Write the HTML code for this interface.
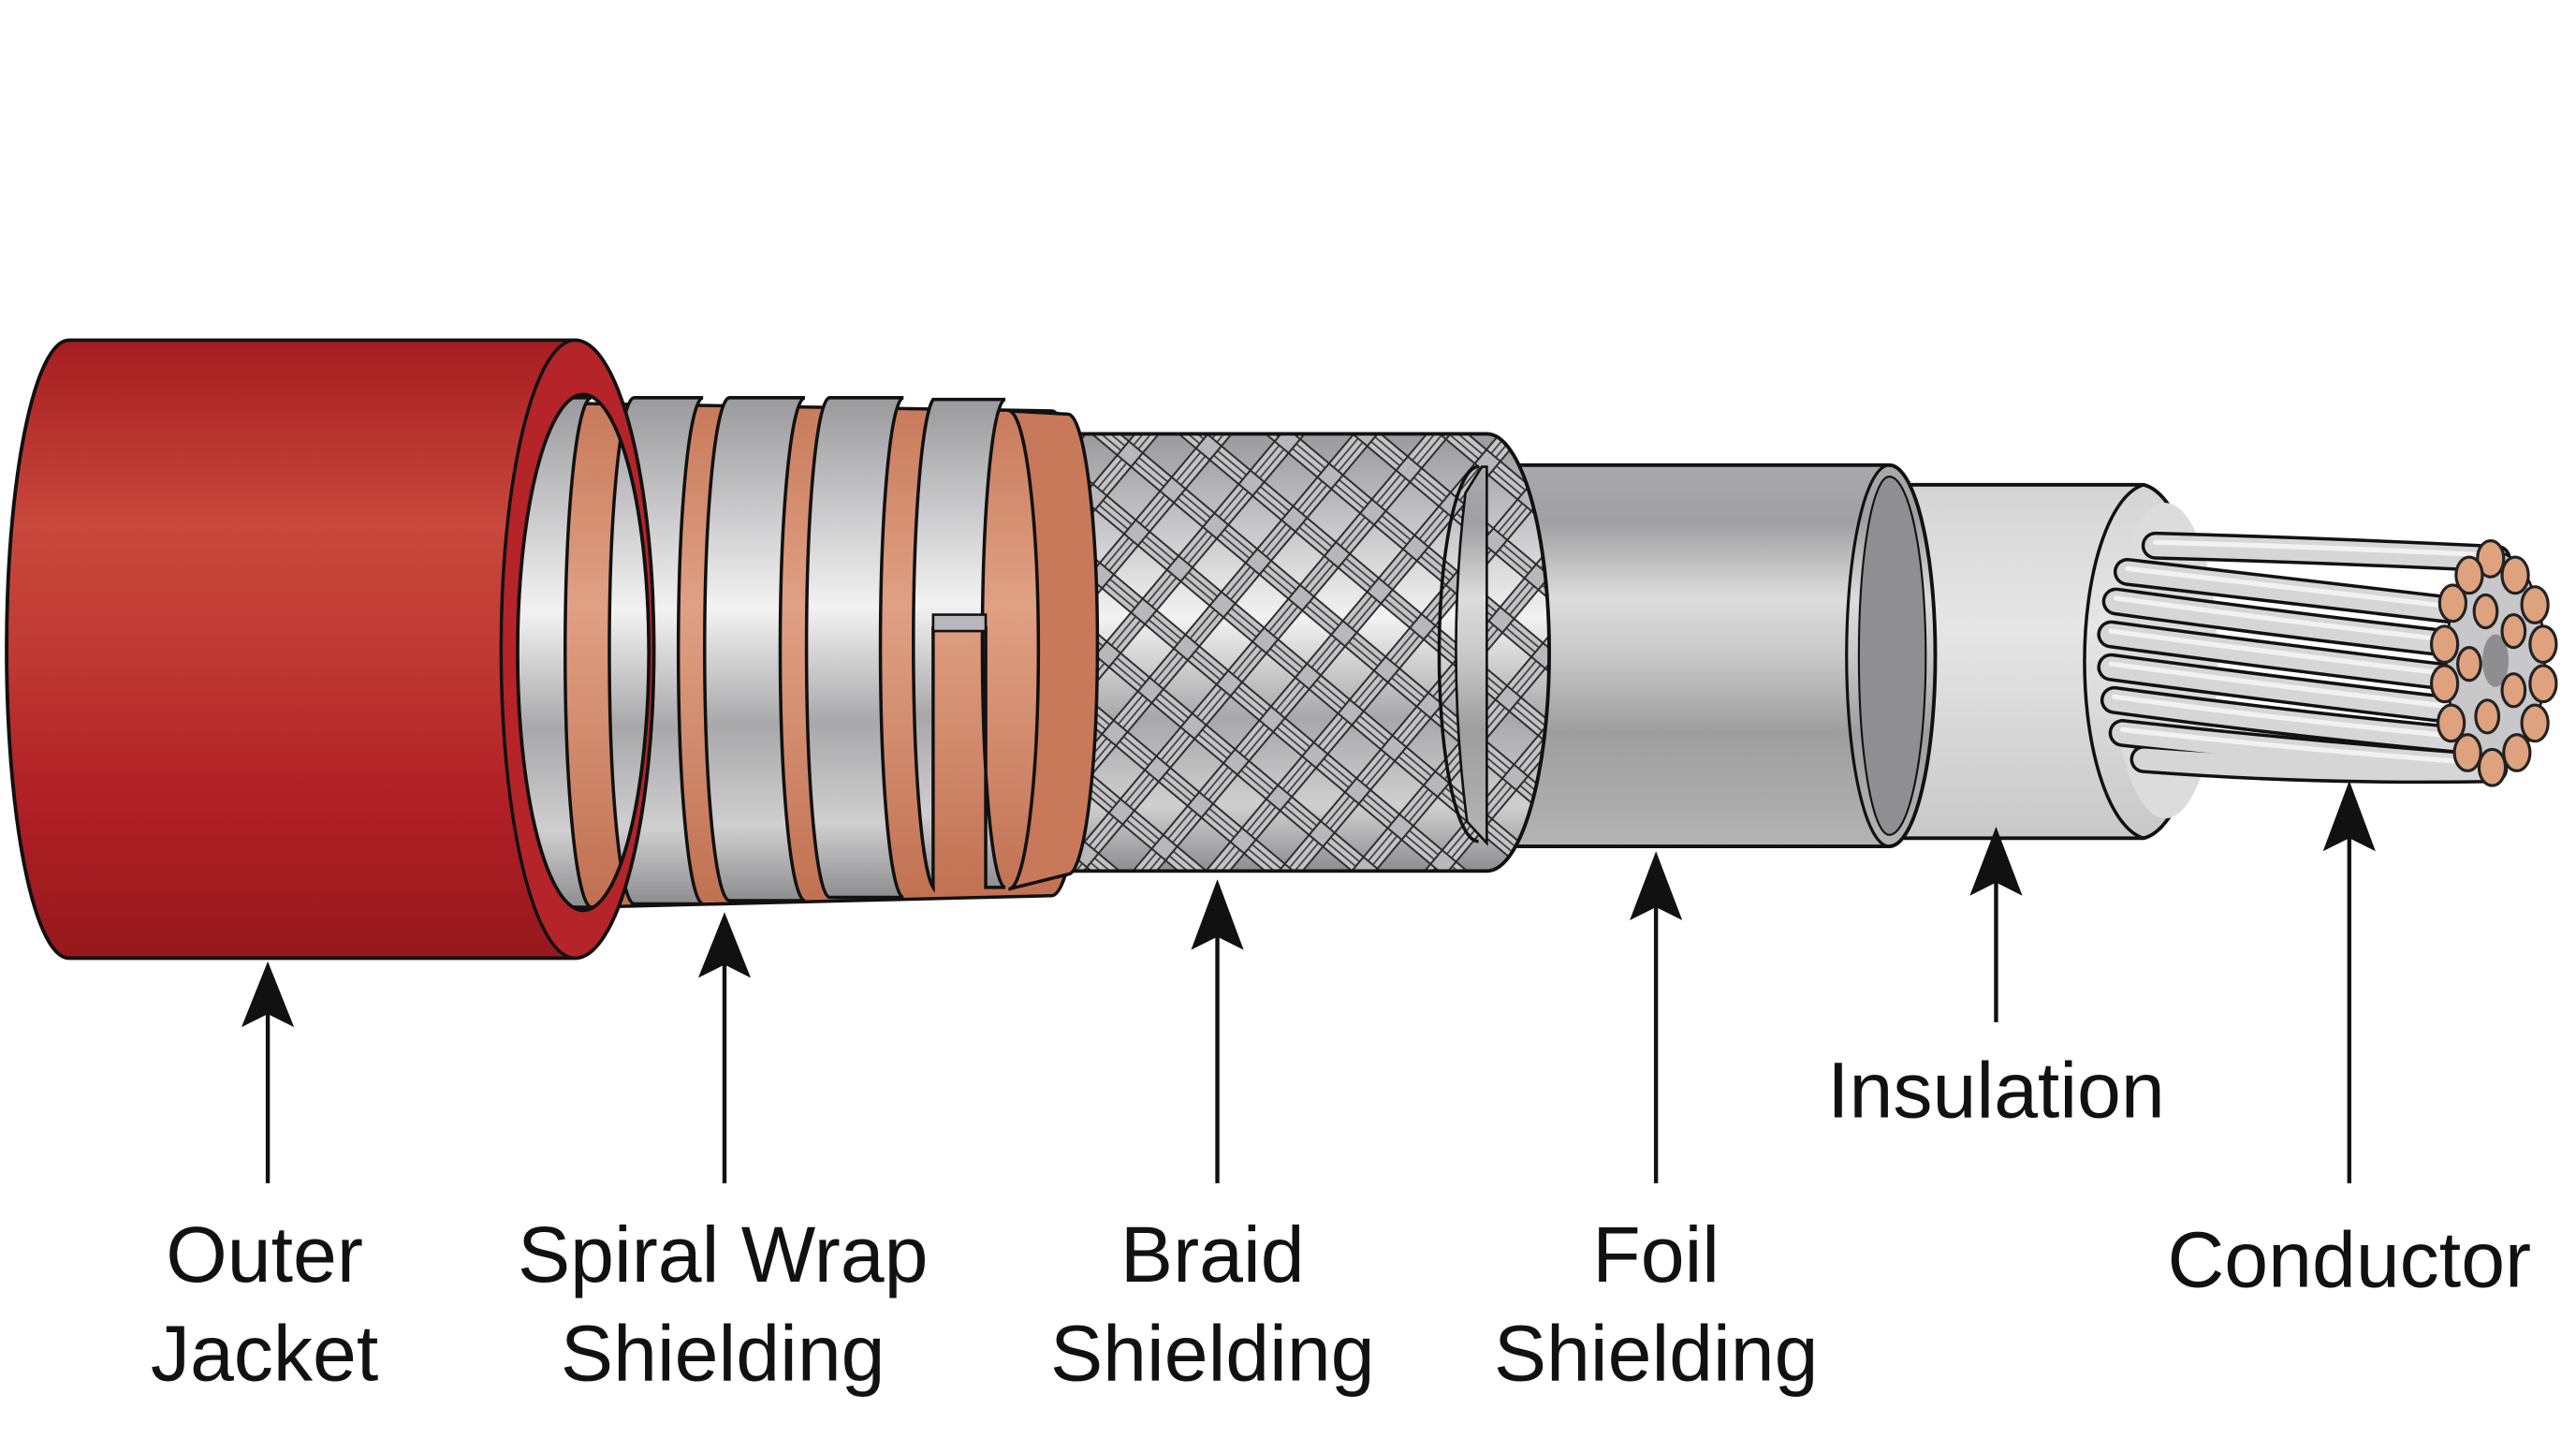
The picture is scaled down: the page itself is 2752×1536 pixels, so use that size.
<!DOCTYPE html>
<html><head><meta charset="utf-8"><style>
html,body{margin:0;padding:0;background:#fff;}
svg{display:block}
text{font-family:"Liberation Sans",sans-serif;fill:#111;}
</style></head><body>
<svg width="2752" height="1536" viewBox="0 0 1568 875" preserveAspectRatio="none" xmlns="http://www.w3.org/2000/svg">
<defs>
<linearGradient id="red" x1="0" y1="0" x2="0" y2="1">
<stop offset="0" stop-color="#a61d20"/><stop offset="0.3" stop-color="#c8483c"/><stop offset="0.5" stop-color="#c03a33"/><stop offset="0.75" stop-color="#b01f25"/><stop offset="1" stop-color="#96191c"/></linearGradient>
<linearGradient id="silver" x1="0" y1="0" x2="0" y2="1">
<stop offset="0" stop-color="#9a9a9c"/><stop offset="0.2" stop-color="#c4c4c6"/><stop offset="0.42" stop-color="#f2f2f2"/><stop offset="0.65" stop-color="#a8a8aa"/><stop offset="0.85" stop-color="#cfcfd0"/><stop offset="1" stop-color="#8e8e90"/></linearGradient>
<linearGradient id="foil" x1="0" y1="0" x2="0" y2="1">
<stop offset="0" stop-color="#a9a9ab"/><stop offset="0.15" stop-color="#a0a0a2"/><stop offset="0.35" stop-color="#dcdcdc"/><stop offset="0.5" stop-color="#c8c8c8"/><stop offset="0.7" stop-color="#9e9e9f"/><stop offset="1" stop-color="#b4b4b5"/></linearGradient>
<linearGradient id="ins" x1="0" y1="0" x2="0" y2="1">
<stop offset="0" stop-color="#d4d4d4"/><stop offset="0.4" stop-color="#e6e6e6"/><stop offset="1" stop-color="#c8c8c8"/></linearGradient>
<linearGradient id="copper" x1="0" y1="0" x2="0" y2="1">
<stop offset="0" stop-color="#c87a5a"/><stop offset="0.4" stop-color="#e0a084"/><stop offset="1" stop-color="#c07050"/></linearGradient>
<pattern id="braid" width="34" height="34" patternUnits="userSpaceOnUse" patternTransform="rotate(40)">
<g fill="#c4c4c6" stroke="#2a2a2a" stroke-width="1.1">
<rect x="-1" y="2" width="36" height="11"/>
<rect x="19" y="-1" width="11" height="36"/>
<rect x="19" y="2" width="11" height="11" fill="#b8b8ba"/>
</g>
<g stroke="#333" stroke-width="0.9">
<line x1="0" y1="5.7" x2="19" y2="5.7"/><line x1="0" y1="9.4" x2="19" y2="9.4"/><line x1="30" y1="5.7" x2="34" y2="5.7"/><line x1="30" y1="9.4" x2="34" y2="9.4"/>
<line x1="22.7" y1="13" x2="22.7" y2="34"/><line x1="26.4" y1="13" x2="26.4" y2="34"/><line x1="22.7" y1="0" x2="22.7" y2="2"/><line x1="26.4" y1="0" x2="26.4" y2="2"/>
</g>
</pattern>
</defs>
<rect width="1568" height="875" fill="#fff"/>

<!-- insulation -->
<path d="M1130,295 L1305,295 A40,108 0 0 1 1305,510 L1130,510Z" fill="url(#ins)" stroke="#111" stroke-width="2.2"/>
<path d="M1305,295 A40,108 0 0 0 1305,510" fill="none" stroke="#111" stroke-width="2"/>
<ellipse cx="1318" cy="402" rx="32" ry="96" fill="#dcdcdc"/>

<!-- conductor wires -->
<g fill="none" stroke-linecap="round">
<g stroke="#111" stroke-width="17">
<path d="M1312,332 Q1420,335 1520,340"/>
<path d="M1295,348 Q1400,360 1500,372"/>
<path d="M1288,366 Q1390,380 1495,392"/>
<path d="M1285,386 Q1390,400 1490,412"/>
<path d="M1285,406 Q1390,420 1492,432"/>
<path d="M1287,426 Q1390,440 1495,450"/>
<path d="M1292,446 Q1400,458 1505,466"/>
<path d="M1305,462 Q1410,470 1518,468"/>
</g>
<g stroke="#d6d6d7" stroke-width="13">
<path d="M1312,332 Q1420,335 1520,340"/>
<path d="M1295,348 Q1400,360 1500,372"/>
<path d="M1288,366 Q1390,380 1495,392"/>
<path d="M1285,386 Q1390,400 1490,412"/>
<path d="M1285,406 Q1390,420 1492,432"/>
<path d="M1287,426 Q1390,440 1495,450"/>
<path d="M1292,446 Q1400,458 1505,466"/>
<path d="M1305,462 Q1410,470 1518,468"/>
</g>
<g stroke="#f2f2f2" stroke-width="3">
<path d="M1312,330 Q1420,333 1520,338"/>
<path d="M1295,346 Q1400,358 1500,370"/>
<path d="M1288,364 Q1390,378 1495,390"/>
<path d="M1285,384 Q1390,398 1490,410"/>
<path d="M1285,404 Q1390,418 1492,430"/>
<path d="M1287,424 Q1390,438 1495,448"/>
<path d="M1292,444 Q1400,456 1505,464"/>
</g>
</g>
<ellipse cx="1519" cy="402" rx="30" ry="66" fill="#c8c8ca" stroke="#111" stroke-width="1.5"/>
<ellipse cx="1519" cy="402" rx="8" ry="16" fill="#8e8e90"/>
<g stroke="#222" stroke-width="1.8" fill="#dea27e">
<ellipse cx="1516" cy="340" rx="8" ry="11"/><ellipse cx="1531" cy="350" rx="8" ry="11"/><ellipse cx="1543" cy="368" rx="8" ry="11"/><ellipse cx="1548" cy="392" rx="8" ry="11"/><ellipse cx="1548" cy="416" rx="8" ry="11"/><ellipse cx="1543" cy="440" rx="8" ry="11"/><ellipse cx="1532" cy="458" rx="8" ry="11"/><ellipse cx="1517" cy="467" rx="8" ry="11"/><ellipse cx="1502" cy="458" rx="8" ry="11"/><ellipse cx="1492" cy="440" rx="8" ry="11"/><ellipse cx="1488" cy="416" rx="8" ry="11"/><ellipse cx="1488" cy="392" rx="8" ry="11"/><ellipse cx="1493" cy="367" rx="8" ry="11"/><ellipse cx="1503" cy="350" rx="8" ry="11"/>
<ellipse cx="1513" cy="372" rx="7" ry="10"/><ellipse cx="1530" cy="384" rx="7" ry="10"/><ellipse cx="1530" cy="420" rx="7" ry="10"/><ellipse cx="1514" cy="436" rx="7" ry="10"/><ellipse cx="1503" cy="404" rx="7" ry="10"/>
</g>
<path d="M1128,295 A22,108 0 0 0 1128,510" fill="none" stroke="#111" stroke-width="2"/>

<!-- foil -->
<path d="M890,283 L1150,283 A28,116 0 0 1 1150,515 L890,515Z" fill="url(#foil)" stroke="#111" stroke-width="2.2"/>
<path d="M1150,283 A26,116 0 0 0 1150,515" fill="none" stroke="#111" stroke-width="1.8"/>
<path d="M1150,290 A22,108 0 0 1 1150,508 A18,106 0 0 1 1150,290Z" fill="#8f8f91" stroke="#111" stroke-width="1.2"/>

<!-- braid -->
<path d="M628,264 L905,264 A38,133 0 0 1 905,530 L628,530 A22,133 0 0 1 628,264Z" fill="url(#silver)"/>
<path d="M628,264 L905,264 A38,133 0 0 1 905,530 L628,530 A22,133 0 0 1 628,264Z" fill="url(#braid)" stroke="#111" stroke-width="2.2"/>
<path d="M900,284 A24,114 0 0 0 900,512" fill="none" stroke="#111" stroke-width="2"/>
<path d="M902,284 L892,300 Q880,400 893,500 L905,513 L905,284Z" fill="url(#foil)" stroke="#111" stroke-width="1.5"/>

<!-- spiral wrap: copper base -->
<path d="M318,245 L640,250 A20,142 0 0 1 640,545 L318,553 A18,154 0 0 1 318,245Z" fill="url(#copper)" stroke="#111" stroke-width="2"/>
<g stroke="#111" stroke-width="2" fill="url(#silver)">
<path d="M312,242 L360,242 A16,155 0 0 0 360,552 L312,552 A16,155 0 0 1 312,242Z"/>
<path d="M386,242 L428,242 A15,153 0 0 0 428,550 L386,550 A15,153 0 0 1 386,242Z"/>
<path d="M444,242 L490,242 A15,152 0 0 0 490,548 L444,548 A15,152 0 0 1 444,242Z"/>
<path d="M505,242 L550,242 A14,151 0 0 0 550,546 L505,546 A14,151 0 0 1 505,242Z"/>
<path d="M568,243 L612,243 A14,148 0 0 0 612,540 L600,540 L600,382 L568,382 L568,540 A14,150 0 0 1 568,243Z"/>
</g>
<path d="M614,250 L650,252 A18,140 0 0 1 650,532 L614,541 A18,145 0 0 0 614,250Z" fill="#c8795a" stroke="#111" stroke-width="2"/>
<path d="M568,374 L600,374 L600,384 L568,384Z" fill="#b8b8ba" stroke="#111" stroke-width="1.5"/>

<!-- outer jacket -->
<path fill-rule="evenodd" d="M42,207 L350,207 A48,188 0 0 1 350,583 L42,583 A38,188 0 0 1 42,207Z M355,240 A40,157 0 0 0 355,554 A40,157 0 0 0 355,240Z" fill="url(#red)" stroke="#111" stroke-width="2.2"/>
<path d="M350,207 A48,188 0 0 1 350,583 A45,188 0 0 1 350,207Z M355,240 A40,157 0 0 0 355,554 A40,157 0 0 0 355,240Z" fill-rule="evenodd" fill="#b42428" stroke="#111" stroke-width="2"/>

<!-- arrows -->
<g stroke="#111" stroke-width="2.5">
<line x1="163" y1="720" x2="163" y2="610"/>
<line x1="441" y1="720" x2="441" y2="580"/>
<line x1="741" y1="720" x2="741" y2="560"/>
<line x1="1008" y1="720" x2="1008" y2="545"/>
<line x1="1215" y1="622" x2="1215" y2="530"/>
<line x1="1430" y1="720" x2="1430" y2="500"/>
</g>
<g fill="#111">
<path d="M163,585 L147,625 L163,617 L179,625Z"/>
<path d="M441,555 L425,595 L441,587 L457,595Z"/>
<path d="M741,535 L725,578 L741,570 L757,578Z"/>
<path d="M1008,518 L992,560 L1008,552 L1024,560Z"/>
<path d="M1215,503 L1199,545 L1215,537 L1231,545Z"/>
<path d="M1430,475 L1414,518 L1430,510 L1446,518Z"/>
</g>

<!-- labels -->
<g font-size="48" text-anchor="middle">
<text x="161" y="780">Outer</text>
<text x="161" y="840">Jacket</text>
<text x="440" y="780">Spiral Wrap</text>
<text x="440" y="840">Shielding</text>
<text x="738" y="780">Braid</text>
<text x="738" y="840">Shielding</text>
<text x="1008" y="780">Foil</text>
<text x="1008" y="840">Shielding</text>
<text x="1215" y="680">Insulation</text>
<text x="1430" y="783">Conductor</text>
</g>
</svg>
</body></html>
